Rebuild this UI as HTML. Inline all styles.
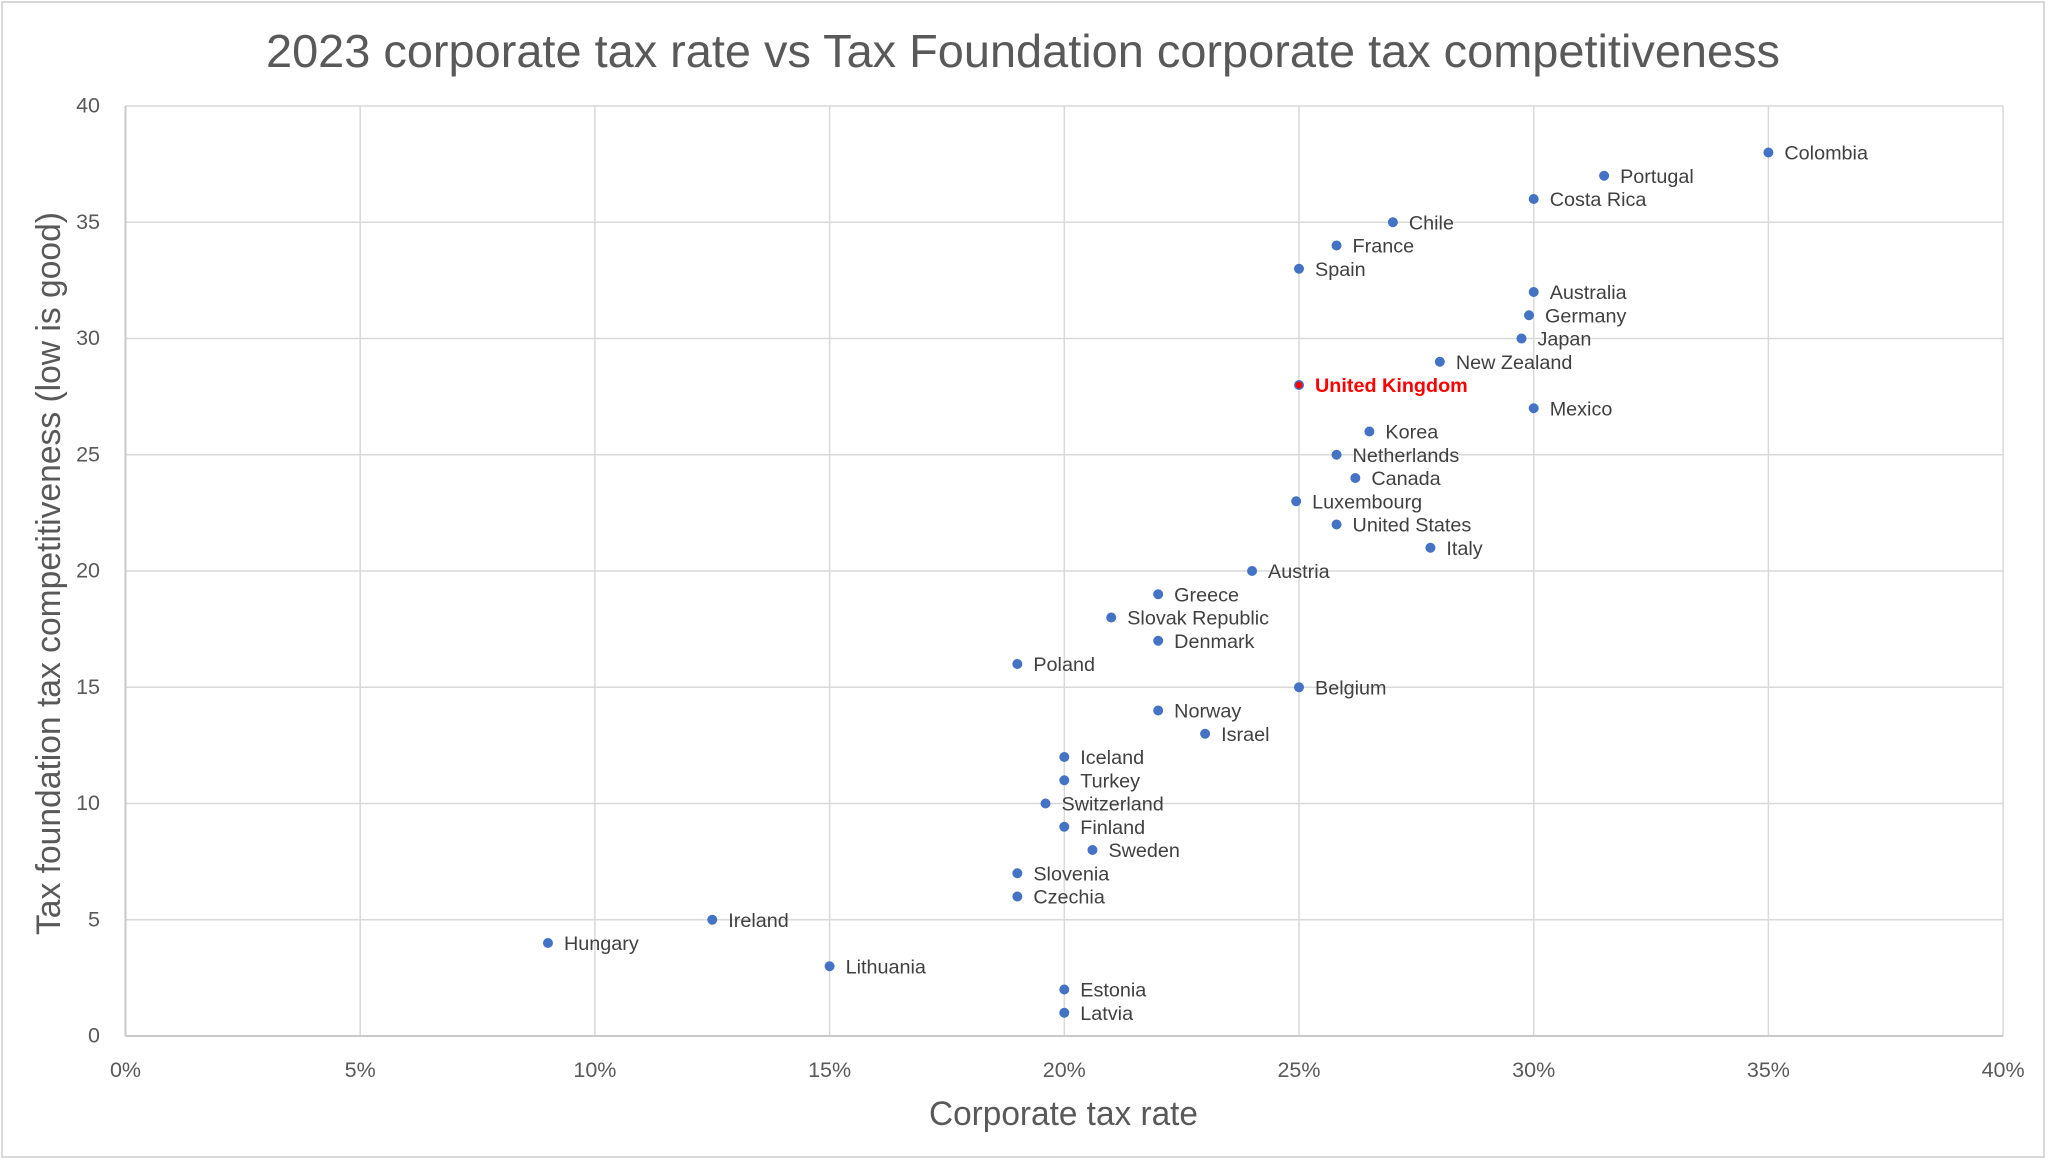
<!DOCTYPE html>
<html>
<head>
<meta charset="utf-8">
<style>
  html,body{margin:0;padding:0;background:#fff;}
  svg{display:block;}
  .tk{font-family:"Liberation Sans",Arial,sans-serif;font-size:21.5px;fill:#595959;}
  .lb{font-family:"Liberation Sans",Arial,sans-serif;font-size:19.8px;fill:#404040;}
  .ttl{font-family:"Liberation Sans",Arial,sans-serif;fill:#595959;}
</style>
</head>
<body>
<svg width="2048" height="1160" viewBox="0 0 2048 1160" xmlns="http://www.w3.org/2000/svg">
  <rect x="0" y="0" width="2048" height="1160" fill="#fff"/>
  <rect x="2" y="2" width="2042" height="1155" fill="#fff" stroke="#d9d9d9" stroke-width="2"/>

  <!-- title -->
  <text class="ttl" x="266" y="67" font-size="46" textLength="1514" lengthAdjust="spacingAndGlyphs">2023 corporate tax rate vs Tax Foundation corporate tax competitiveness</text>

  <!-- gridlines -->
  <g stroke="#d9d9d9" stroke-width="1.5">
    <line x1="360.2" y1="106" x2="360.2" y2="1036"/>
    <line x1="594.9" y1="106" x2="594.9" y2="1036"/>
    <line x1="829.6" y1="106" x2="829.6" y2="1036"/>
    <line x1="1064.3" y1="106" x2="1064.3" y2="1036"/>
    <line x1="1299" y1="106" x2="1299" y2="1036"/>
    <line x1="1533.7" y1="106" x2="1533.7" y2="1036"/>
    <line x1="1768.4" y1="106" x2="1768.4" y2="1036"/>
    <line x1="2003.1" y1="106" x2="2003.1" y2="1036"/>
    <line x1="125.5" y1="106" x2="2003.1" y2="106"/>
    <line x1="125.5" y1="222.25" x2="2003.1" y2="222.25"/>
    <line x1="125.5" y1="338.5" x2="2003.1" y2="338.5"/>
    <line x1="125.5" y1="454.75" x2="2003.1" y2="454.75"/>
    <line x1="125.5" y1="571" x2="2003.1" y2="571"/>
    <line x1="125.5" y1="687.25" x2="2003.1" y2="687.25"/>
    <line x1="125.5" y1="803.5" x2="2003.1" y2="803.5"/>
    <line x1="125.5" y1="919.75" x2="2003.1" y2="919.75"/>
  </g>
  <g stroke="#c9c9c9" stroke-width="2">
    <line x1="125.5" y1="106" x2="125.5" y2="1036"/>
    <line x1="125.5" y1="1036" x2="2003.1" y2="1036"/>
  </g>

  <!-- y tick labels -->
  <g class="tk" text-anchor="end">
    <text x="100" y="112.5">40</text>
    <text x="100" y="228.75">35</text>
    <text x="100" y="345">30</text>
    <text x="100" y="461.25">25</text>
    <text x="100" y="577.5">20</text>
    <text x="100" y="693.75">15</text>
    <text x="100" y="810">10</text>
    <text x="100" y="926.25">5</text>
    <text x="100" y="1042.5">0</text>
  </g>
  <!-- x tick labels -->
  <g class="tk" text-anchor="middle">
    <text x="125.5" y="1077">0%</text>
    <text x="360.2" y="1077">5%</text>
    <text x="594.9" y="1077">10%</text>
    <text x="829.6" y="1077">15%</text>
    <text x="1064.3" y="1077">20%</text>
    <text x="1299" y="1077">25%</text>
    <text x="1533.7" y="1077">30%</text>
    <text x="1768.4" y="1077">35%</text>
    <text x="2003.1" y="1077">40%</text>
  </g>

  <!-- axis titles -->
  <text class="ttl" x="929" y="1125" font-size="34" textLength="269" lengthAdjust="spacingAndGlyphs">Corporate tax rate</text>
  <text class="ttl" font-size="34" transform="translate(60,935) rotate(-90)" x="0" y="0" textLength="723" lengthAdjust="spacingAndGlyphs">Tax foundation tax competitiveness (low is good)</text>

  <!-- points -->
  <g fill="#4472C4">
    <circle cx="1768.4" cy="152.5" r="5"/>
    <circle cx="1604.11" cy="175.75" r="5"/>
    <circle cx="1533.7" cy="199" r="5"/>
    <circle cx="1392.88" cy="222.25" r="5"/>
    <circle cx="1336.55" cy="245.5" r="5"/>
    <circle cx="1299" cy="268.75" r="5"/>
    <circle cx="1533.7" cy="292" r="5"/>
    <circle cx="1529.01" cy="315.25" r="5"/>
    <circle cx="1521.5" cy="338.5" r="5"/>
    <circle cx="1439.82" cy="361.75" r="5"/>
    <circle cx="1299" cy="385" r="5"/>
    <circle cx="1533.7" cy="408.25" r="5"/>
    <circle cx="1369.41" cy="431.5" r="5"/>
    <circle cx="1336.55" cy="454.75" r="5"/>
    <circle cx="1355.33" cy="478" r="5"/>
    <circle cx="1296.18" cy="501.25" r="5"/>
    <circle cx="1336.55" cy="524.5" r="5"/>
    <circle cx="1430.43" cy="547.75" r="5"/>
    <circle cx="1252.06" cy="571" r="5"/>
    <circle cx="1158.18" cy="594.25" r="5"/>
    <circle cx="1111.24" cy="617.5" r="5"/>
    <circle cx="1158.18" cy="640.75" r="5"/>
    <circle cx="1017.36" cy="664" r="5"/>
    <circle cx="1299" cy="687.25" r="5"/>
    <circle cx="1158.18" cy="710.5" r="5"/>
    <circle cx="1205.12" cy="733.75" r="5"/>
    <circle cx="1064.3" cy="757" r="5"/>
    <circle cx="1064.3" cy="780.25" r="5"/>
    <circle cx="1045.52" cy="803.5" r="5"/>
    <circle cx="1064.3" cy="826.75" r="5"/>
    <circle cx="1092.46" cy="850" r="5"/>
    <circle cx="1017.36" cy="873.25" r="5"/>
    <circle cx="1017.36" cy="896.5" r="5"/>
    <circle cx="712.25" cy="919.75" r="5"/>
    <circle cx="547.96" cy="943" r="5"/>
    <circle cx="829.6" cy="966.25" r="5"/>
    <circle cx="1064.3" cy="989.5" r="5"/>
    <circle cx="1064.3" cy="1012.75" r="5"/>
  </g>
  <circle cx="1299" cy="385" r="3.5" fill="#ff0000"/>

  <!-- labels -->
  <g class="lb">
    <text x="1784.4" y="159.5">Colombia</text>
    <text x="1620.11" y="182.75">Portugal</text>
    <text x="1549.7" y="206">Costa Rica</text>
    <text x="1408.88" y="229.25">Chile</text>
    <text x="1352.55" y="252.5">France</text>
    <text x="1315" y="275.75">Spain</text>
    <text x="1549.7" y="299">Australia</text>
    <text x="1545.01" y="322.25">Germany</text>
    <text x="1537.5" y="345.5">Japan</text>
    <text x="1455.82" y="368.75">New Zealand</text>
    <text x="1549.7" y="415.25">Mexico</text>
    <text x="1385.41" y="438.5">Korea</text>
    <text x="1352.55" y="461.75">Netherlands</text>
    <text x="1371.33" y="485">Canada</text>
    <text x="1312.18" y="508.25">Luxembourg</text>
    <text x="1352.55" y="531.5">United States</text>
    <text x="1446.43" y="554.75">Italy</text>
    <text x="1268.06" y="578">Austria</text>
    <text x="1174.18" y="601.25">Greece</text>
    <text x="1127.24" y="624.5">Slovak Republic</text>
    <text x="1174.18" y="647.75">Denmark</text>
    <text x="1033.36" y="671">Poland</text>
    <text x="1315" y="694.25">Belgium</text>
    <text x="1174.18" y="717.5">Norway</text>
    <text x="1221.12" y="740.75">Israel</text>
    <text x="1080.3" y="764">Iceland</text>
    <text x="1080.3" y="787.25">Turkey</text>
    <text x="1061.52" y="810.5">Switzerland</text>
    <text x="1080.3" y="833.75">Finland</text>
    <text x="1108.46" y="857">Sweden</text>
    <text x="1033.36" y="880.25">Slovenia</text>
    <text x="1033.36" y="903.5">Czechia</text>
    <text x="728.25" y="926.75">Ireland</text>
    <text x="563.96" y="950">Hungary</text>
    <text x="845.6" y="973.25">Lithuania</text>
    <text x="1080.3" y="996.5">Estonia</text>
    <text x="1080.3" y="1019.75">Latvia</text>
  </g>
  <text x="1315" y="392" font-family="'Liberation Sans',Arial,sans-serif" font-size="19.8" font-weight="bold" fill="#ff0000">United Kingdom</text>
</svg>
</body>
</html>
